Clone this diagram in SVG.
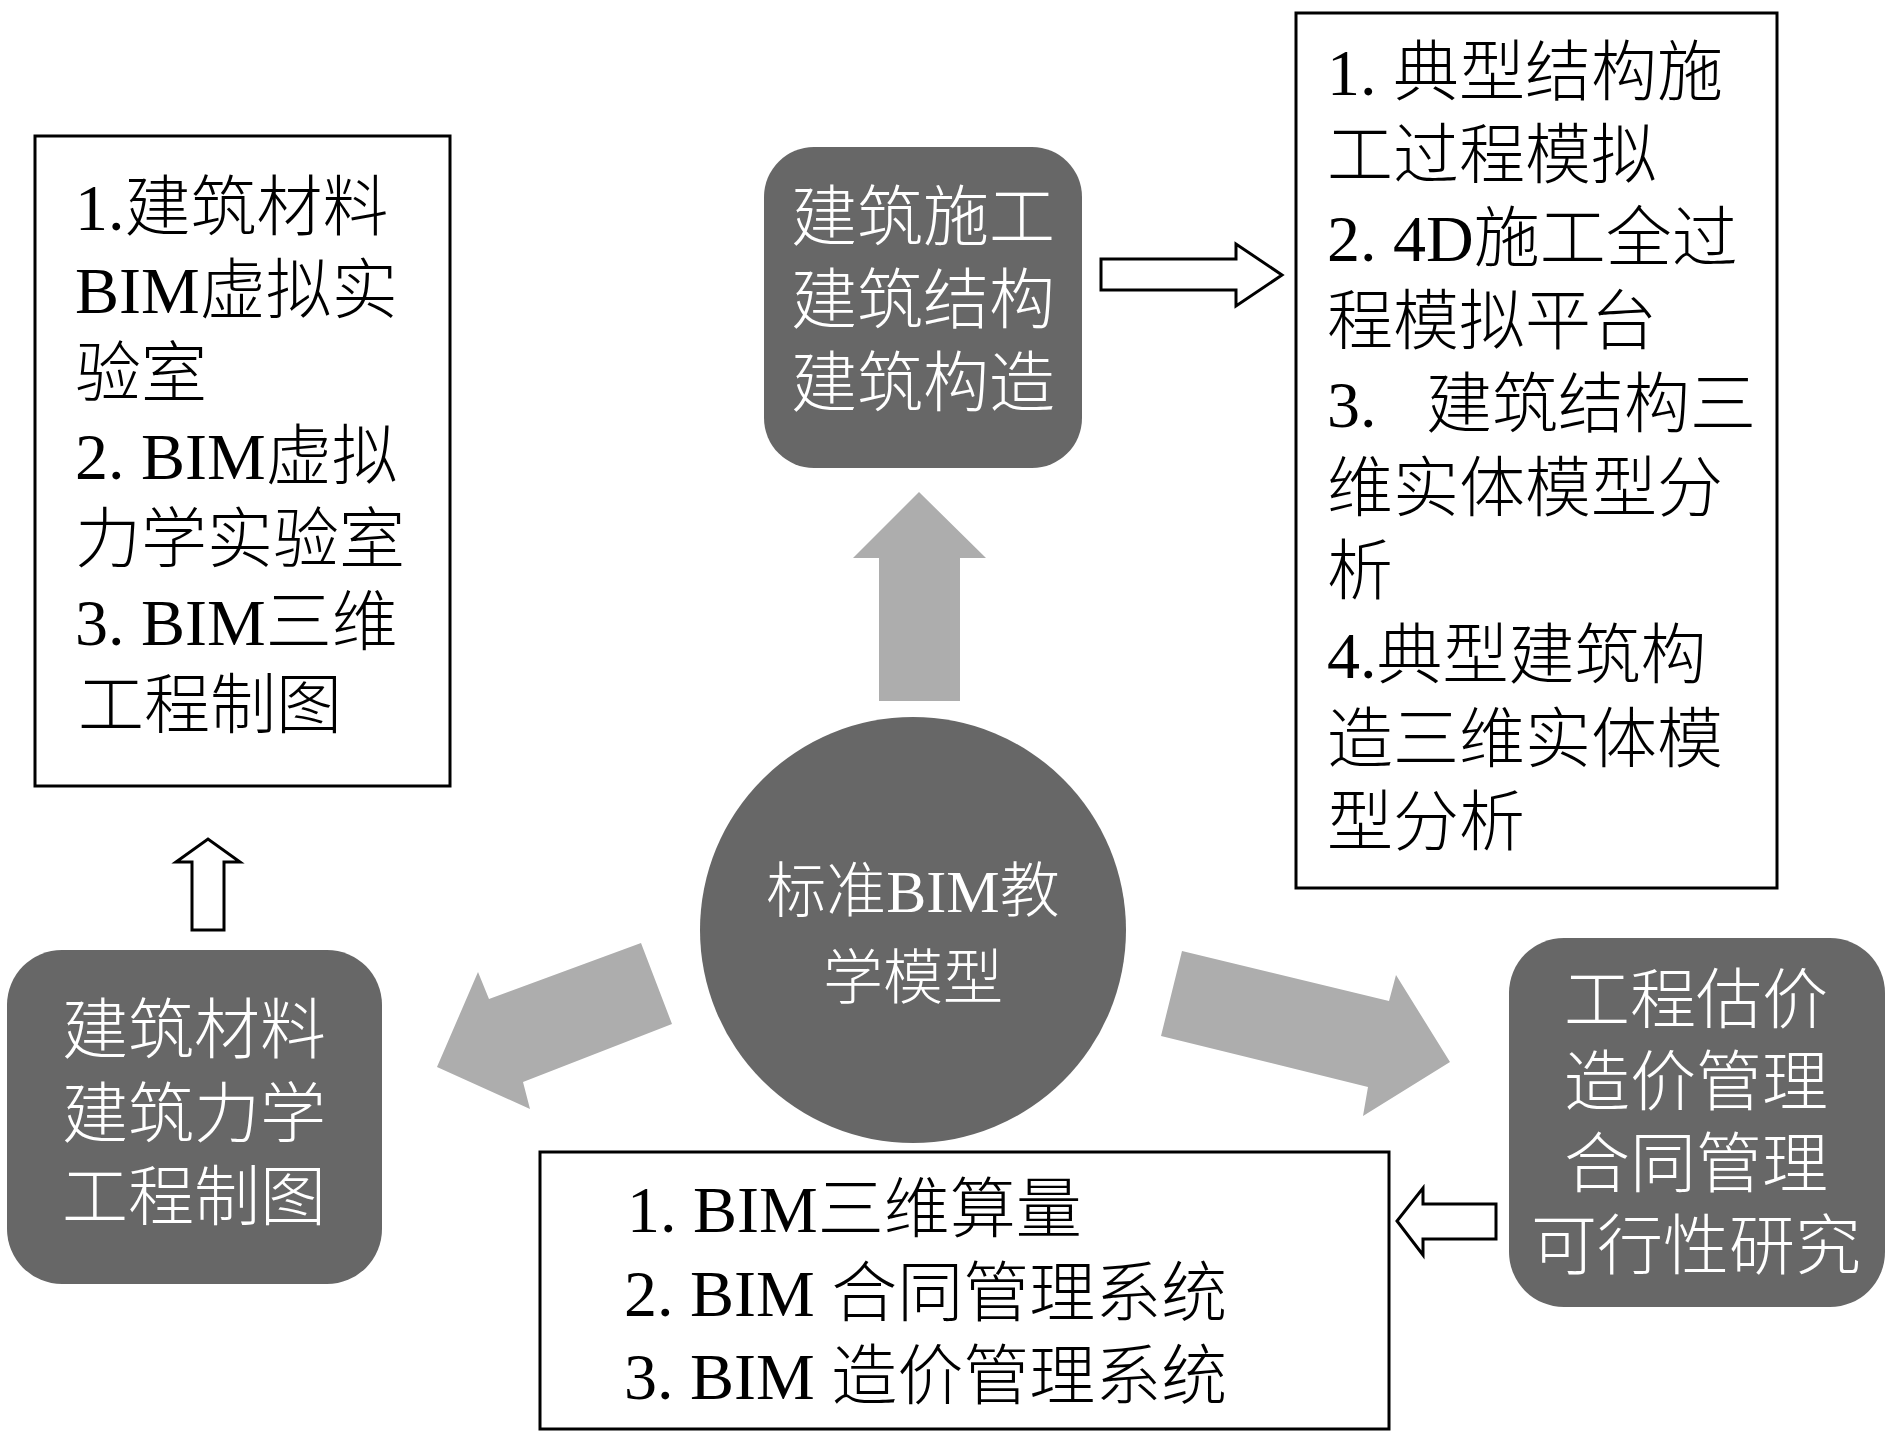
<svg xmlns="http://www.w3.org/2000/svg" width="1890" height="1441" viewBox="0 0 1890 1441">
<style>
  .box { fill: #ffffff; stroke: #000000; stroke-width: 3; }
  .dark { fill: #676767; stroke: none; }
  .t { font-family: "Liberation Serif", "Noto Sans CJK SC", serif; font-size: 66px; font-weight: 300; fill: #000000; }
  .w { font-family: "Liberation Serif", "Noto Sans CJK SC", serif; font-size: 66px; font-weight: 300; fill: #ffffff; text-anchor: middle; }
  .wc { font-family: "Liberation Serif", "Noto Sans CJK SC", serif; font-size: 60px; font-weight: 300; fill: #ffffff; text-anchor: middle; }
  .big { fill: #adadad; stroke: none; }
  .hollow { fill: #ffffff; stroke: #000000; stroke-width: 3; stroke-linejoin: miter; }
</style>
<rect width="1890" height="1441" fill="#ffffff"/>

<g id="connectors">
  <polygon class="big" points="919,492 986,558 960,558 960,701 879,701 879,558 853,558"/>
  <polygon class="big" points="437,1067 478,972 489,999 641,943 672,1024 523,1082 530,1109"/>
  <polygon class="big" points="1182,951 1389,1001 1396,975 1450,1062 1363,1116 1368,1087 1161,1036"/>
  <polygon class="hollow" points="1101,259 1236,259 1236,244 1282,275 1236,306 1236,290 1101,290"/>
  <polygon class="hollow" points="192,930 192,862 176,862 208,839 240,862 224,862 224,930"/>
  <polygon class="hollow" points="1496,1204 1423,1204 1423,1188 1397,1221 1423,1255 1423,1239 1496,1239"/>
</g>

<g id="node-lab">
  <rect class="box" x="35" y="136" width="415" height="650"/>
  <text class="t" x="75" y="230">1.建筑材料</text>
  <text class="t" x="75" y="313">BIM虚拟实</text>
  <text class="t" x="75" y="396">验室</text>
  <text class="t" x="75" y="479">2. BIM虚拟</text>
  <text class="t" x="75" y="562">力学实验室</text>
  <text class="t" x="75" y="645">3. BIM三维</text>
  <text class="t" x="78" y="728">工程制图</text>
</g>

<g id="node-construction">
  <rect class="dark" x="764" y="147" width="318" height="321" rx="50" ry="50"/>
  <text class="w" x="923" y="240">建筑施工</text>
  <text class="w" x="923" y="323">建筑结构</text>
  <text class="w" x="923" y="406">建筑构造</text>
</g>

<g id="node-simulation">
  <rect class="box" x="1296" y="13" width="481" height="875"/>
  <text class="t" x="1327" y="95">1. 典型结构施</text>
  <text class="t" x="1327" y="178">工过程模拟</text>
  <text class="t" x="1327" y="261">2. 4D施工全过</text>
  <text class="t" x="1327" y="344">程模拟平台</text>
  <text class="t" x="1327" y="427" xml:space="preserve">3.   建筑结构三</text>
  <text class="t" x="1327" y="511">维实体模型分</text>
  <text class="t" x="1327" y="594">析</text>
  <text class="t" x="1327" y="678">4.典型建筑构</text>
  <text class="t" x="1327" y="762">造三维实体模</text>
  <text class="t" x="1327" y="845">型分析</text>
</g>

<g id="node-center">
  <circle class="dark" cx="913" cy="930" r="213"/>
  <text class="wc" x="913" y="912">标准BIM教</text>
  <text class="wc" x="913" y="999">学模型</text>
</g>

<g id="node-basics">
  <rect class="dark" x="7" y="950" width="375" height="334" rx="55" ry="55"/>
  <text class="w" x="194" y="1053">建筑材料</text>
  <text class="w" x="194" y="1137">建筑力学</text>
  <text class="w" x="194" y="1220">工程制图</text>
</g>

<g id="node-cost">
  <rect class="dark" x="1509" y="938" width="376" height="369" rx="55" ry="55"/>
  <text class="w" x="1696" y="1023">工程估价</text>
  <text class="w" x="1696" y="1105">造价管理</text>
  <text class="w" x="1696" y="1187">合同管理</text>
  <text class="w" x="1696" y="1269">可行性研究</text>
</g>

<g id="node-systems">
  <rect class="box" x="540" y="1152" width="849" height="277"/>
  <text class="t" x="627" y="1232">1. BIM三维算量</text>
  <text class="t" x="624" y="1316">2. BIM 合同管理系统</text>
  <text class="t" x="624" y="1399">3. BIM 造价管理系统</text>
</g>
</svg>
